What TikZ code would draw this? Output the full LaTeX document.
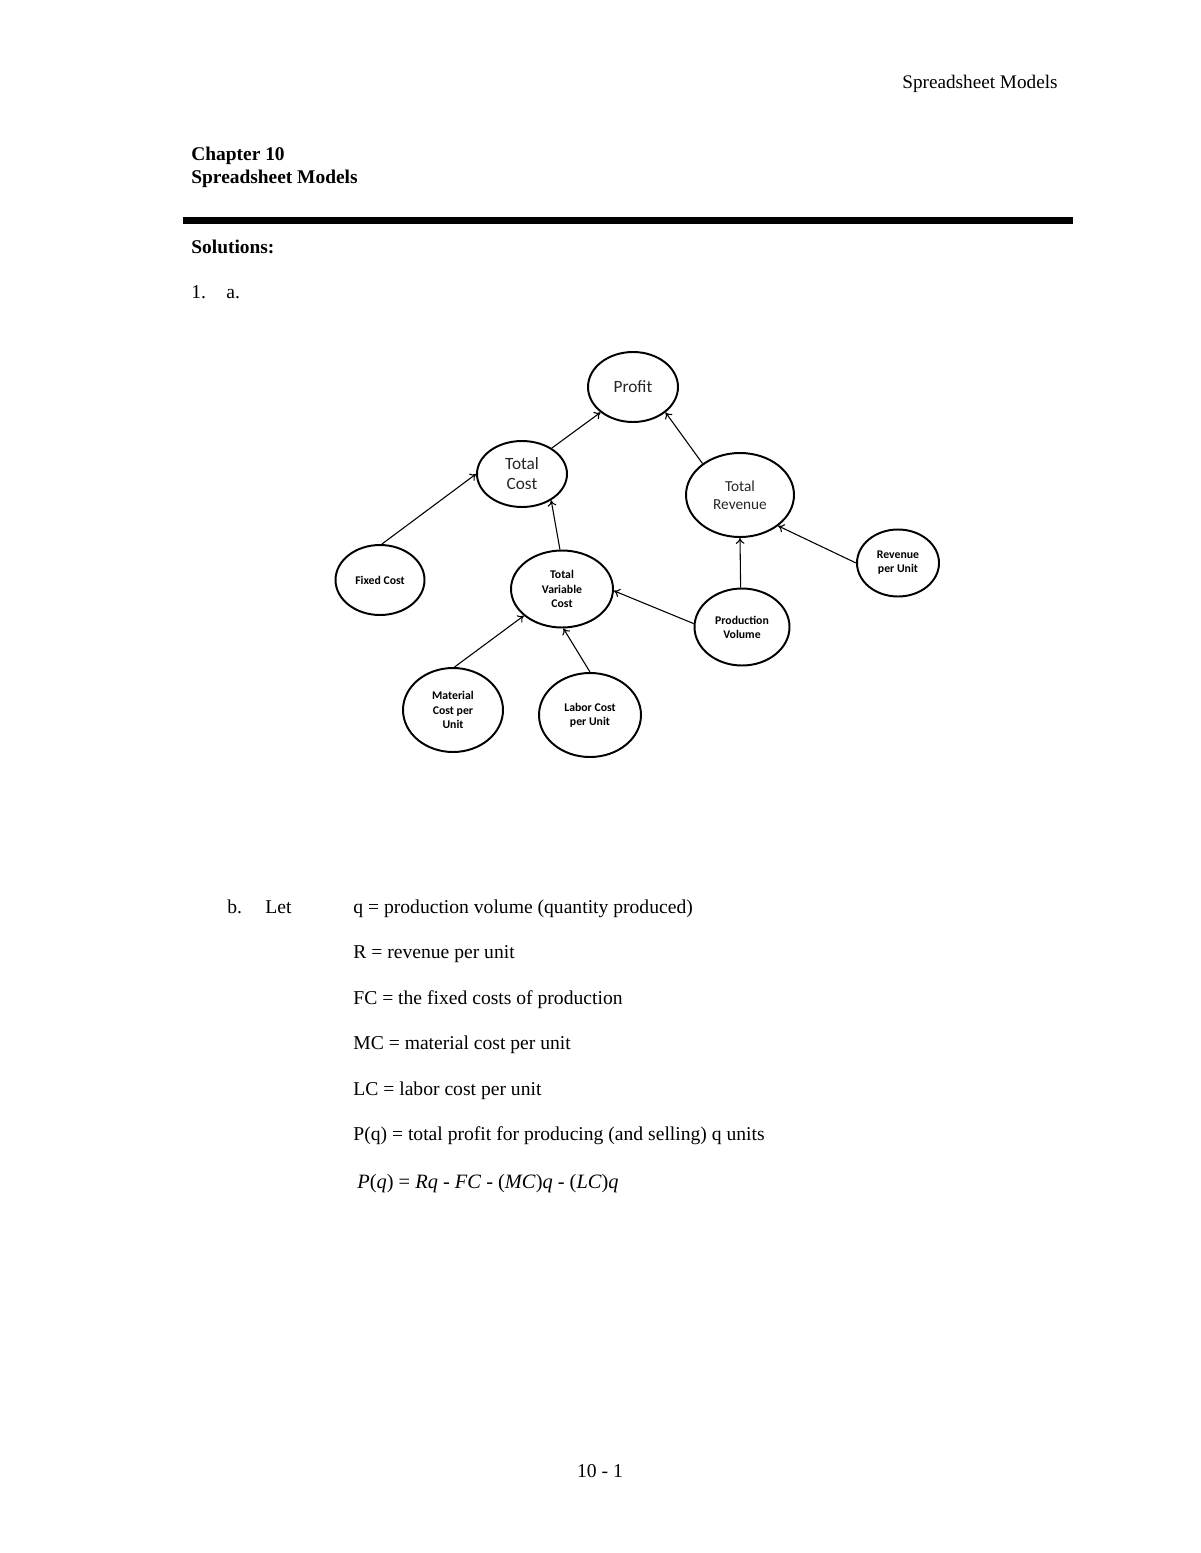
\documentclass[tikz,border=0pt]{standalone}
\usepackage{fontspec}
\setmainfont{Liberation Serif}
\newfontfamily\calibri{Carlito}
\usetikzlibrary{shapes.geometric,arrows.meta}
\begin{document}
\begin{tikzpicture}[x=0.51pt,y=-0.51pt,
  ell/.style={ellipse,draw,line width=1pt,inner sep=0pt,align=center},
  big/.style={font=\calibri\fontsize{8.8}{10.2}\selectfont,text=black!85},
  mid/.style={font=\calibri\fontsize{7.8}{9.2}\selectfont,text=black!85},
  small/.style={font=\calibri\bfseries\fontsize{6}{7.2}\selectfont},
  conn/.style={-{To[length=3pt,width=4.5pt]},line width=0.55pt},
  txt/.style={anchor=base west,inner sep=0pt,font=\fontsize{10}{12}\selectfont},
  btxt/.style={anchor=base west,inner sep=0pt,font=\bfseries\fontsize{9.9}{12}\selectfont}]
\useasboundingbox[fill=white] (0,0) rectangle (1200,1553);

% header
\node[anchor=base east,inner sep=0pt,font=\fontsize{9.8}{12}\selectfont] (hdr) at (1058,89) {Spreadsheet Models};
\node[btxt] (ch) at (191,161) {Chapter 10};
\node[btxt] (chname) at (191,184) {Spreadsheet Models};
\fill (183,217) rectangle (1073,224);
\node[btxt] (sol) at (191,254) {Solutions:};
\node[txt] (one) at (191,298) {1.};
\node[txt] (pa) at (226,298) {a.};

% diagram
\node[ell,big,minimum width=90*0.51pt,minimum height=70*0.51pt] (profit) at (633,387) {Profit};
\node[ell,big,minimum width=90*0.51pt,minimum height=66*0.51pt] (tc) at (522,474) {Total\\Cost};
\node[ell,mid,minimum width=108*0.51pt,minimum height=84*0.51pt] (tr) at (740,495) {Total\\Revenue};
\node[ell,small,minimum width=89*0.51pt,minimum height=70*0.51pt] (fc) at (380,580) {Fixed Cost};
\node[ell,small,minimum width=102*0.51pt,minimum height=77*0.51pt] (tvc) at (562,589) {Total\\Variable\\Cost};
\node[ell,small,minimum width=82*0.51pt,minimum height=67*0.51pt] (rpu) at (898,563) {Revenue\\per Unit};
\node[ell,small,minimum width=95*0.51pt,minimum height=77*0.51pt] (pv) at (742,627) {Production\\Volume};
\node[ell,small,minimum width=100*0.51pt,minimum height=84*0.51pt] (mc) at (453,710) {Material\\Cost per\\Unit};
\node[ell,small,minimum width=102*0.51pt,minimum height=84*0.51pt] (lc) at (590,715) {Labor Cost\\per Unit};

\draw[conn] (tc.41) -- (profit.218);
\draw[conn] (tr.140) -- (profit.322);
\draw[conn] (fc.87) -- (tc.180);
\draw[conn] (tvc.93) -- (tc.318);
\draw[conn] (pv.92) -- (tr.270);
\draw[conn] (rpu.180) -- (tr.321);
\draw[conn] (pv.176) -- (tvc.358);
\draw[conn] (mc.88) -- (tvc.215);
\draw[conn] (lc.90) -- (tvc.272);

% part b
\node[txt] (pb) at (227,913) {b.};
\node[txt] (let) at (265,913) {Let};
\node[txt] (l1) at (353,913) {q = production volume (quantity produced)};
\node[txt] (l2) at (353,958) {R = revenue per unit};
\node[txt] (l3) at (353,1004) {FC = the fixed costs of production};
\node[txt] (l4) at (353,1049) {MC = material cost per unit};
\node[txt] (l5) at (353,1095) {LC = labor cost per unit};
\node[txt] (l6) at (353,1140) {P(q) = total profit for producing (and selling) q units};
\node[txt,font=\fontsize{10.4}{12}\selectfont] (l7) at (357,1188) {\textit{P}(\textit{q}) = \textit{Rq} - \textit{FC} - (\textit{MC})\textit{q} - (\textit{LC})\textit{q}};

\node[anchor=base,inner sep=0pt,font=\fontsize{10}{12}\selectfont] (foot) at (600,1477) {10 - 1};
\end{tikzpicture}
\end{document}
